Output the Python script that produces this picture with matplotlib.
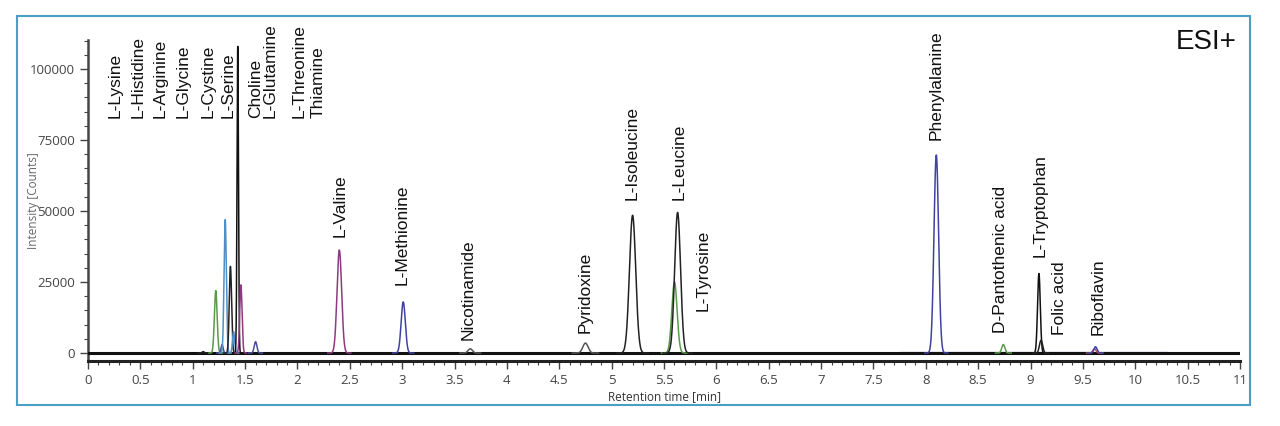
import numpy as np
import matplotlib.pyplot as plt
from matplotlib.patches import Rectangle
from matplotlib.ticker import MultipleLocator

plt.rcParams['font.family'] = ['Liberation Sans', 'DejaVu Sans']

# peak table: retention time, apex intensity, width (sigma), trace colour
peak_rt = [1.10, 1.22, 1.28, 1.31, 1.36, 1.39, 1.43, 1.46, 1.60,
           2.40, 3.01, 3.65, 4.75, 5.20, 5.60, 5.63,
           8.10, 8.74, 9.08, 9.10, 9.61, 9.62]
peak_height = [500, 22000, 3000, 47000, 30500, 7500, 108000, 24000, 4000,
               36300, 18000, 1500, 3500, 48500, 25000, 49500,
               69700, 3000, 28000, 4500, 1500, 2200]
peak_sigma = [0.010, 0.013, 0.010, 0.011, 0.011, 0.010, 0.007, 0.011, 0.013,
              0.022, 0.020, 0.020, 0.025, 0.030, 0.025, 0.028,
              0.022, 0.015, 0.013, 0.015, 0.015, 0.015]
peak_color = ['#222222', '#5b9a4c', '#4a4f9a', '#4f8fc6', '#222222', '#4f8fc6', '#111111', '#8c3b80', '#4a4f9a',
              '#8c3b80', '#3e43a0', '#555555', '#555555', '#222222', '#5b9a4c', '#222222',
              '#3e43a0', '#5b9a4c', '#111111', '#222222', '#c04848', '#3e43a0']

# compound labels: centre x, bottom of text (intensity)
label_text = ['L-Lysine', 'L-Histidine', 'L-Arginine', 'L-Glycine', 'L-Cystine', 'L-Serine',
              'Choline', 'L-Glutamine', 'L-Threonine', 'Thiamine',
              'L-Valine', 'L-Methionine', 'Nicotinamide', 'Pyridoxine', 'L-Isoleucine',
              'L-Leucine', 'L-Tyrosine', 'Phenylalanine', 'D-Pantothenic acid',
              'L-Tryptophan', 'Folic acid', 'Riboflavin']
label_x = [0.26, 0.48, 0.69, 0.91, 1.15, 1.34,
           1.60, 1.74, 2.02, 2.20,
           2.41, 3.00, 3.63, 4.75, 5.20,
           5.64, 5.87, 8.10, 8.71,
           9.09, 9.28, 9.65]
label_y = [82700, 82700, 82700, 82700, 82700, 82700,
           82700, 82700, 82700, 82700,
           40800, 24000, 4600, 7000, 53900,
           53900, 14800, 75000, 7000,
           33800, 6300, 6300]

# slightly raised blue baseline in the late part of the run
drift_x = [7.75, 10.30]
drift_y = [300, 300]

fig = plt.figure(figsize=(12.8, 4.26), dpi=100)
ax = fig.add_axes([88 / 1280, 1 - 361 / 426, (1240 - 88) / 1280, (361 - 40) / 426])

ax.plot([0, 11], [0, 0], color='#111111', lw=2.2, zorder=3)
ax.plot(drift_x, drift_y, color='#3e43a0', lw=1.0, alpha=0.5, zorder=2)

for rt, h, s, c in zip(peak_rt, peak_height, peak_sigma, peak_color):
    t = np.linspace(rt - 5 * s, rt + 5 * s, 200)
    ax.plot(t, h * np.exp(-0.5 * ((t - rt) / s) ** 2), color=c, lw=1.1, zorder=4)

for txt, x, y in zip(label_text, label_x, label_y):
    ax.text(x, y, txt, rotation=90, ha='center', va='bottom', fontsize=12.5, color='#111111')

ax.set_xlim(0, 11)
ax.set_ylim(-2800, 110200)
ax.xaxis.set_minor_locator(MultipleLocator(0.1))
ax.yaxis.set_minor_locator(MultipleLocator(5000))
ax.set_xticks([0, 0.5, 1, 1.5, 2, 2.5, 3, 3.5, 4, 4.5, 5, 5.5, 6, 6.5, 7, 7.5, 8, 8.5, 9, 9.5, 10, 10.5, 11])
ax.set_xticklabels(['0', '0.5', '1', '1.5', '2', '2.5', '3', '3.5', '4', '4.5', '5', '5.5',
                    '6', '6.5', '7', '7.5', '8', '8.5', '9', '9.5', '10', '10.5', '11'])
ax.set_yticks([0, 25000, 50000, 75000, 100000])
ax.set_yticklabels(['0', '25000', '50000', '75000', '100000'])

for side in ['top', 'right']:
    ax.spines[side].set_visible(False)
ax.spines['left'].set_color('#444444')
ax.spines['left'].set_linewidth(1.8)
ax.spines['bottom'].set_color('#222222')
ax.spines['bottom'].set_linewidth(2.2)
ax.tick_params(axis='both', which='major', length=6, width=1, color='#444444',
               labelsize=9.5, labelcolor='#444444')
ax.tick_params(axis='both', which='minor', length=3, width=0.8, color='#444444')
for lbl in ax.get_xticklabels() + ax.get_yticklabels():
    lbl.set_family(['Open Sans', 'DejaVu Sans'])

ax.set_xlabel('Retention time [min]', fontsize=8.5, color='#333333',
              family=['Open Sans', 'DejaVu Sans'])
ax.xaxis.set_label_coords(0.5, -0.09)
ax.set_ylabel('Intensity [Counts]', fontsize=8.5, color='#666666',
              family=['Open Sans', 'DejaVu Sans'])
ax.yaxis.set_label_coords(-0.042, 0.5)

fig.text(1237 / 1280, 1 - 29 / 426, 'ESI+', ha='right', va='top', fontsize=20, color='#111111')

fig.patches.append(Rectangle((17 / 1280, 1 - 405 / 426), (1250 - 17) / 1280, (405 - 16) / 426,
                             transform=fig.transFigure, fill=False, edgecolor='#4a9fc4', lw=1.5))

fig.savefig('out.png', dpi=100)
